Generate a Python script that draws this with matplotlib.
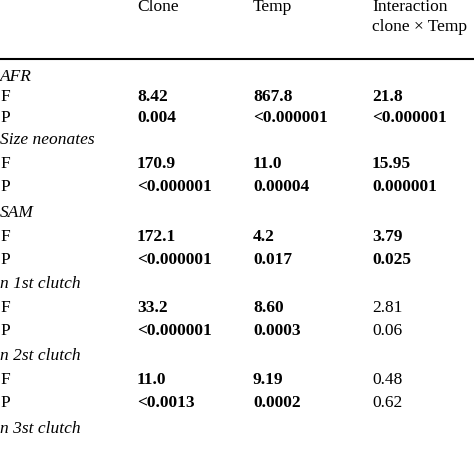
import matplotlib.pyplot as plt

groups = ["AFR", "Size neonates", "SAM", "n 1st clutch", "n 2st clutch", "n 3st clutch"]
clone_F = ["8.42", "170.9", "172.1", "33.2", "11.0"]
clone_P = ["0.004", "<0.000001", "<0.000001", "<0.000001", "<0.0013"]
temp_F = ["867.8", "11.0", "4.2", "8.60", "9.19"]
temp_P = ["<0.000001", "0.00004", "0.017", "0.0003", "0.0002"]
inter_F = ["21.8", "15.95", "3.79", "2.81", "0.48"]
inter_P = ["<0.000001", "0.000001", "0.025", "0.06", "0.62"]
inter_bold = [True, True, True, False, False]

W, H = 474, 453
plt.rcParams['font.family'] = ['Liberation Serif', 'DejaVu Serif']
fig = plt.figure(figsize=(W / 100, H / 100), dpi=100)
ax = fig.add_axes([0, 0, 1, 1])
ax.set_xlim(0, W)
ax.set_ylim(H, 0)
ax.axis("off")
fs = 12.5

xs = [0, 137, 253, 372]
ax.text(xs[1], 7, "Clone", fontsize=fs, va="center")
ax.text(xs[2], 7, "Temp", fontsize=fs, va="center")
ax.text(xs[3], 7, "Interaction", fontsize=fs, va="center")
ax.text(xs[3], 27, "clone \u00d7 Temp", fontsize=fs, va="center")
ax.plot([0, W], [59, 59], color="black", lw=1.5)

ys = [77, 140, 213, 284, 356, 429]
for i, g in enumerate(groups):
    y = ys[i]
    ax.text(xs[0], y, g, fontsize=fs, style="italic", va="center")
    if i >= len(clone_F):
        continue
    for j, (lab, vals) in enumerate([("F", (clone_F, temp_F, inter_F)),
                                     ("P", (clone_P, temp_P, inter_P))]):
        yy = y + 20 + 21 * j if i == 0 else y + 24 + 23 * j
        ax.text(xs[0], yy, lab, fontsize=fs, va="center")
        for k, col in enumerate(vals):
            bold = True if k < 2 else inter_bold[i]
            ax.text(xs[k + 1], yy, col[i], fontsize=fs, va="center",
                    fontweight="bold" if bold else "normal")

fig.savefig("out.png", dpi=100)
